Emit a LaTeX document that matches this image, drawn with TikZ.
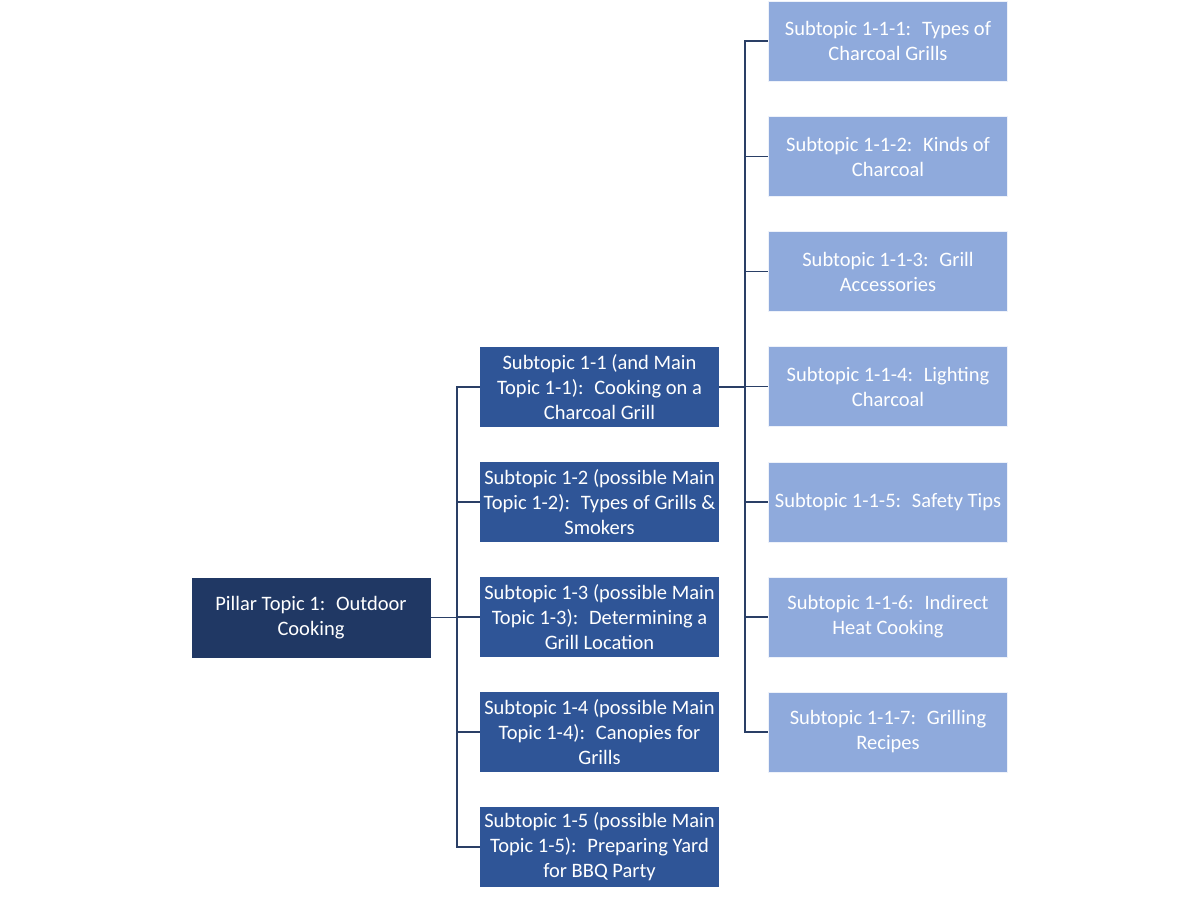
\documentclass[tikz,border=0pt]{standalone}
\usepackage{fontspec}
\setmainfont{Carlito}
\definecolor{rootc}{HTML}{203864}
\definecolor{midc}{HTML}{2F5597}
\definecolor{leafc}{HTML}{8FAADC}
\definecolor{linec}{HTML}{2A3F66}
\begin{document}
\begin{tikzpicture}[x=1pt,y=-1pt,
  box/.style={minimum width=239pt,minimum height=80pt,inner sep=0pt,align=center,text=white,
    font=\fontsize{20.5}{25}\selectfont},
  rootbox/.style={box,fill=rootc},
  midbox/.style={box,fill=midc},
  leafbox/.style={box,fill=leafc,draw=white!85!leafc,line width=1pt},
  conn/.style={draw=linec,line width=1.6pt}]
\useasboundingbox (0,0) rectangle (1200,900);
\node[rootbox] (r) at (311,617.5) {Pillar Topic 1:~ Outdoor\\Cooking};
\node[midbox] (m1) at (599.5,387) {Subtopic 1-1 (and Main\\Topic 1-1):~ Cooking on a\\Charcoal Grill};
\node[midbox] (m2) at (599.5,502) {Subtopic 1-2 (possible Main\\Topic 1-2):~ Types of Grills \&\\Smokers};
\node[midbox] (m3) at (599.5,617) {Subtopic 1-3 (possible Main\\Topic 1-3):~ Determining a\\Grill Location};
\node[midbox] (m4) at (599.5,732) {Subtopic 1-4 (possible Main\\Topic 1-4):~ Canopies for\\Grills};
\node[midbox] (m5) at (599.5,847) {Subtopic 1-5 (possible Main\\Topic 1-5):~ Preparing Yard\\for BBQ Party};
\node[leafbox] (l1) at (888,41) {Subtopic 1-1-1:~ Types of\\Charcoal Grills};
\node[leafbox] (l2) at (888,156.5) {Subtopic 1-1-2:~ Kinds of\\Charcoal};
\node[leafbox] (l3) at (888,271.5) {Subtopic 1-1-3:~ Grill\\Accessories};
\node[leafbox] (l4) at (888,386.5) {Subtopic 1-1-4:~ Lighting\\Charcoal};
\node[leafbox] (l5) at (888,502) {Subtopic 1-1-5:~ Safety Tips};
\node[leafbox] (l6) at (888,617) {Subtopic 1-1-6:~ Indirect\\Heat Cooking};
\node[leafbox] (l7) at (888,732) {Subtopic 1-1-7:~ Grilling\\Recipes};
\foreach \m in {m1,m2,m3,m4,m5}
  \draw[conn] (r.east) -- ++(26,0) |- (\m.west);
\foreach \l in {l1,l2,l3,l4,l5,l6,l7}
  \draw[conn] (m1.east) -- ++(26,0) |- (\l.west);
\end{tikzpicture}
\end{document}
